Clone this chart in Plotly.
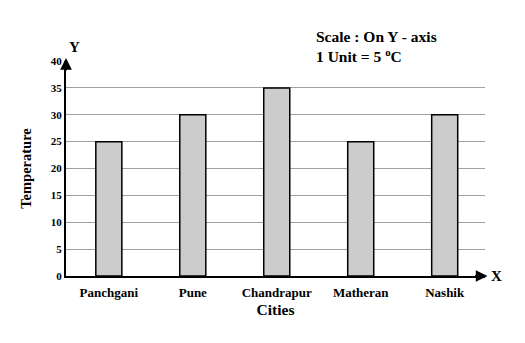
import plotly.graph_objects as go

cities = ["Panchgani", "Pune", "Chandrapur", "Matheran", "Nashik"]
temperature = [25, 30, 35, 25, 30]
y_ticks = [0, 5, 10, 15, 20, 25, 30, 35, 40]

FONT = "Liberation Serif"

fig = go.Figure()
fig.add_trace(go.Bar(
    x=list(range(len(cities))), y=temperature, width=0.31,
    marker=dict(color="#cccccc", line=dict(color="black", width=1.5)),
))

fig.update_layout(
    width=525, height=343,
    margin=dict(l=66, r=40, t=61, b=67),
    paper_bgcolor="white", plot_bgcolor="white",
    showlegend=False,
    font=dict(family=FONT, color="black"),
    xaxis=dict(
        range=[-0.51, 4.48], tickmode="array",
        tickvals=list(range(len(cities))),
        ticktext=["<b>%s</b>" % c for c in cities],
        tickfont=dict(size=13, family=FONT), ticks="", showgrid=False,
        ticklabelstandoff=3,
        showline=True, linecolor="black", linewidth=2, zeroline=False,
        title=dict(text="<b>Cities</b>", font=dict(size=15.5, family=FONT), standoff=6),
    ),
    yaxis=dict(
        range=[0, 40], tickmode="array", tickvals=y_ticks,
        ticktext=["<b>%d</b>" % v for v in y_ticks],
        tickfont=dict(size=11, family=FONT), ticks="",
        showgrid=True, gridcolor="#a0a0a0", gridwidth=1,
        showline=True, linecolor="black", linewidth=2, zeroline=False,
        title=dict(text="<b>Temperature</b>", font=dict(size=14.5, family=FONT), standoff=16),
    ),
)

# axis arrows
fig.add_annotation(x=1.006, y=0, xref="paper", yref="paper", ax=-14, ay=0,
                   showarrow=True, arrowhead=2, arrowsize=1.3, arrowwidth=1.8,
                   arrowcolor="black", text="")
fig.add_annotation(x=0, y=1.014, xref="paper", yref="paper", ax=0, ay=14,
                   showarrow=True, arrowhead=2, arrowsize=1.3, arrowwidth=1.8,
                   arrowcolor="black", text="")
fig.add_annotation(x=1.027, y=0, xref="paper", yref="paper", yanchor="middle",
                   xanchor="center", text="<b>X</b>",
                   showarrow=False, font=dict(size=15, family=FONT))
fig.add_annotation(x=0.003, y=(276 - 57) / 215, xref="paper", yref="paper", text="<b>Y</b>",
                   showarrow=False, font=dict(size=15, family=FONT), yanchor="bottom")

fig.add_annotation(x=(314 - 66) / 419, y=(276 - 26) / 215, xref="paper", yref="paper",
                   xanchor="left", yanchor="top", align="left", showarrow=False,
                   text="<b>Scale : On Y - axis<br>1 Unit = 5 <sup>o</sup>C</b>",
                   font=dict(size=15.5, family=FONT))

fig.write_html("out.html")
